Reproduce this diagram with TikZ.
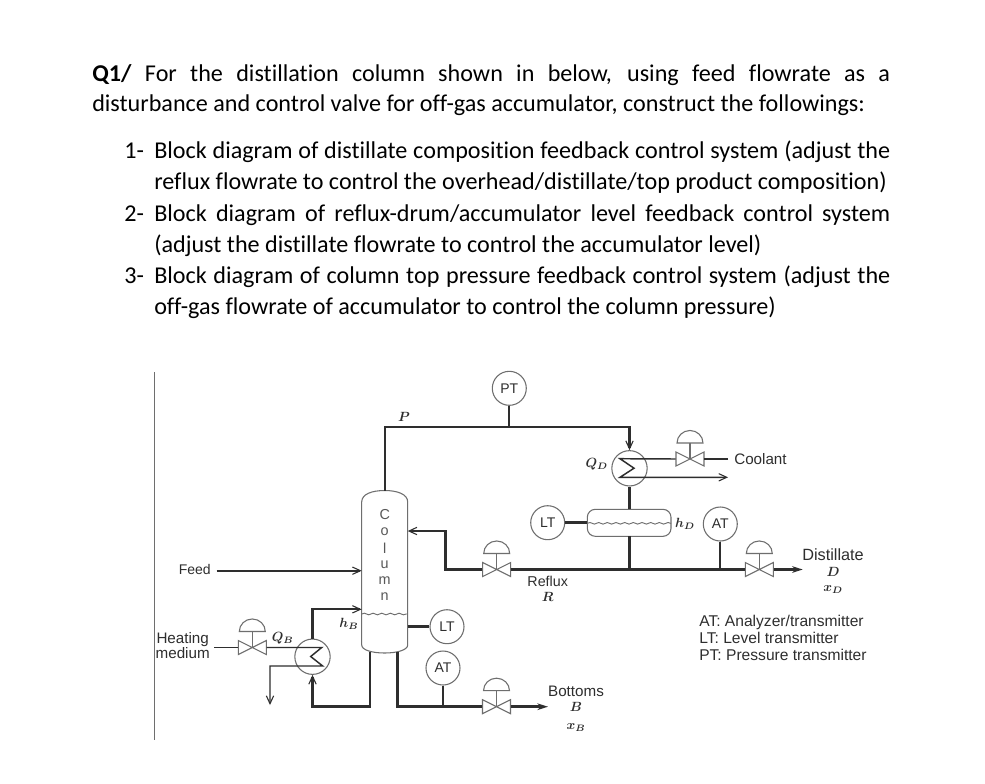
\documentclass[tikz,border=0pt]{standalone}
\usepackage{fontspec}
\setmainfont[Ligatures=NoCommon]{Carlito}
\newfontfamily\diagfont{Liberation Sans}
\usetikzlibrary{arrows.meta,decorations.pathmorphing}
\definecolor{ink}{HTML}{2E2E2E}
\definecolor{soft}{HTML}{6E6E6E}
\tikzset{
  x=0.75pt,y=-0.75pt,
  bodyline/.style={anchor=base west,inner sep=0pt,font=\fontsize{18.1}{22}\selectfont,text=black},
  heavy/.style={draw=ink,line width=1.9pt},
  pipe/.style={draw=ink,line width=1.6pt},
  thin pipe/.style={draw=ink,line width=1.1pt},
  instr/.style={circle,draw=soft,line width=0.8pt,fill=white,minimum size=25.5pt,inner sep=0pt,
     font=\diagfont\fontsize{10.5}{12}\selectfont,text=ink},
  hx/.style={circle,draw=ink!70,line width=0.8pt,minimum size=26.5pt,inner sep=0pt},
  lab/.style={inner sep=0pt,anchor=base,font=\diagfont\fontsize{11.4}{13}\selectfont,text=ink},
  keylab/.style={inner sep=0pt,anchor=base west,font=\diagfont\fontsize{11.7}{13}\selectfont,text=ink},
  mathlab/.style={inner sep=0pt,font=\fontsize{10}{12}\selectfont\boldmath,text=ink},
  letter/.style={inner sep=0pt,font=\diagfont\fontsize{10.8}{12}\selectfont,text=ink!80},
  valvebox/.style={inner sep=0pt,minimum width=21pt,minimum height=10.5pt},
  valveline/.style={draw=soft,line width=0.8pt,fill=white},
  barb/.style={-{Straight Barb[length=6pt,width=5.5pt,line width=0.8pt]}},
  solidtip/.style={-{Stealth[length=8pt,width=5pt]}},
  vessel/.style={draw=soft,line width=0.8pt,fill=white},
  wave/.style={draw=soft,line width=0.7pt,decorate,decoration={snake,amplitude=0.6pt,segment length=6.5pt}},
}
\newcommand{\valveat}[3]{%
  \node[valvebox] (#1) at (#2,#3) {};
  \path[valveline] (#2-14,#3-7) -- (#2+14,#3+7) -- (#2+14,#3-7) -- (#2-14,#3+7) -- cycle;
  \path[valveline,fill=none] (#2,#3) -- (#2,#3-16);
  \path[valveline,fill=none] (#2-13,#3-16) -- (#2+13,#3-16) arc[start angle=0,end angle=180,x radius=9.75pt,y radius=9.4pt] -- cycle;
}
\begin{document}
\begin{tikzpicture}
\useasboundingbox (0,0) rectangle (985,783);
\fill[white] (0,0) rectangle (985,783);
% question text
\node[bodyline] (l1) at (92,81) {\hbox to 598.5pt{\textbf{Q1/} For the distillation column shown in below, using feed flowrate as a}};
\node[bodyline] (l2) at (92,111.5) {disturbance and control valve for off-gas accumulator, construct the followings:};
\node[bodyline] (n1) at (124,158) {1-};
\node[bodyline] (l3) at (154,158) {\hbox to 552pt{Block diagram of distillate composition feedback control system (adjust the}};
\node[bodyline] (l4) at (154,189) {reflux flowrate to control the overhead/distillate/top product composition)};
\node[bodyline] (n2) at (124,221) {2-};
\node[bodyline] (l5) at (154,221) {\hbox to 552pt{Block diagram of reflux-drum/accumulator level feedback control system}};
\node[bodyline] (l6) at (154,252) {(adjust the distillate flowrate to control the accumulator level)};
\node[bodyline] (n3) at (124,283) {3-};
\node[bodyline] (l7) at (154,283) {\hbox to 552pt{Block diagram of column top pressure feedback control system (adjust the}};
\node[bodyline] (l8) at (154,314) {off-gas flowrate of accumulator to control the column pressure)};
% left border line of the figure
\coordinate (bt) at (154.5,372);
\coordinate (bb) at (154.5,740);
\draw[draw=soft,line width=0.8pt] (bt) -- (bb);
% column
\path[vessel] (361.7,502) .. controls (361.7,494) and (372,490.5) .. (384.7,490.5)
   .. controls (397,490.5) and (407.7,494) .. (407.7,502) -- (407.7,645)
   .. controls (407.7,650) and (397,653) .. (384.7,653)
   .. controls (372,653) and (361.7,650) .. (361.7,645) -- cycle;
\coordinate (colL) at (361.7,570.7);
\coordinate (colHb) at (361.7,609.3);
\coordinate (colLT) at (407.7,626.7);
\coordinate (colRef) at (407.7,531);
\coordinate (colTop) at (384.7,490.5);
\coordinate (colB1) at (370,652);
\coordinate (colB2) at (397.7,652);
\draw[wave] (361.7,614) -- (407.7,614);
\node[letter] (c1) at (384.7,515) {C};
\node[letter] (c2) at (384.7,531.5) {o};
\node[letter] (c3) at (384.7,548) {l};
\node[letter] (c4) at (384.7,565) {u};
\node[letter] (c5) at (384.7,581) {m};
\node[letter] (c6) at (384.7,597) {n};
% instruments
\node[instr] (pt) at (509.3,388.3) {PT};
\node[instr] (ltb) at (447,626.7) {LT};
\node[instr] (atb) at (443,668) {AT};
\node[instr] (ltd) at (547.7,522.7) {LT};
\node[instr] (atd) at (720.3,524) {AT};
% exchangers
\node[hx] (reb) at (312.5,656.7) {};
\node[hx] (cond) at (629.5,468.3) {};
% drum
\path[vessel,rounded corners=6pt] (587.3,509.3) rectangle (671,536.3);
\coordinate (drT) at (629.5,509.3);
\coordinate (drB) at (629.5,536.3);
\coordinate (drL) at (587.3,522.7);
\draw[wave] (587.3,523.3) -- (671,523.3);
% valves
\valveat{vh}{252.3}{647.5}
\valveat{vb}{496.5}{706.7}
\valveat{vr}{496.7}{569.5}
\valveat{vc}{690}{459}
\valveat{vd}{759.3}{569.5}
% feed
\coordinate (feed0) at (216.7,570.7);
\draw[pipe,barb] (feed0) -- (colL);
% vapour boilup
\draw[pipe,barb] (reb.north) -- (312.5,609.3) -- (colHb);
% overhead
\coordinate (ptj) at (509.3,427.3);
\draw[pipe] (colTop) -- (384.7,427.3) -- (ptj) -- (629.5,427.3) -- (629.5,440);
\draw[pipe,barb] (629.5,440) -- (cond.north);
\draw[pipe] (pt.south) -- (ptj);
% condenser to drum
\draw[pipe] (cond.south) -- (drT);
% reflux and distillate
\coordinate (dj) at (629.5,569.5);
\coordinate (aj) at (720.3,569.5);
\draw[pipe] (drB) -- (dj);
\draw[pipe] (vr.east) -- (dj) -- (aj) -- (vd.west);
\draw[pipe] (atd.south) -- (aj);
\draw[heavy,barb] (vr.west) -- (445.3,569.5) -- (445.3,531) -- (colRef);
\coordinate (dend) at (802.7,569.5);
\draw[heavy,solidtip] (vd.east) -- (dend);
\draw[heavy] (ltd.east) -- (drL);
\draw[heavy] (colLT) -- (ltb.west);
% bottoms
\coordinate (bj) at (443,706.7);
\coordinate (bend) at (548,706.7);
\draw[heavy] (colB2) -- (397.7,706.7) -- (bj) -- (vb.west);
\draw[heavy,barb] (colB1) -- (370,706.7) -- (312.5,706.7) -- (reb.south);
\draw[pipe] (atb.south) -- (bj);
\draw[heavy,solidtip] (vb.east) -- (bend);
% heating medium
\coordinate (hm0) at (214,647.5);
\coordinate (hm1) at (321.7,647.5);
\coordinate (hm2) at (310.7,656.5);
\coordinate (hm3) at (322.7,666);
\coordinate (hmE) at (270,705);
\draw[thin pipe] (hm0) -- (vh.west);
\draw[thin pipe,barb,line join=miter] (vh.east) -- (hm1) -- (hm2) -- (hm3) -- (270,666) -- (hmE);
% coolant
\coordinate (cc1) at (620,458.7);
\coordinate (cc2) at (634,468.2);
\coordinate (cc3) at (620,477.3);
\coordinate (ccE) at (728,477.3);
\coordinate (cool) at (728,459);
\draw[thin pipe] (cool) -- (vc.east);
\draw[thin pipe,barb] (vc.west) -- (cc1) -- (cc2) -- (cc3) -- (ccE);
% labels
\node[lab,anchor=base east,font=\diagfont\fontsize{10.5}{12}\selectfont] (feedl) at (211,574.3) {Feed};
\node[lab] (hm) at (182.7,643.3) {Heating};
\node[lab] (md) at (182.7,658.7) {medium};
\node[lab,anchor=base west] (cl) at (734,464) {Coolant};
\node[lab,font=\diagfont\fontsize{10.7}{12}\selectfont] (rl) at (547.7,586.7) {Reflux};
\node[lab,font=\diagfont\fontsize{12.2}{14}\selectfont] (dl) at (833,560.7) {Distillate};
\node[lab] (bl) at (576,696) {Bottoms};
\node[mathlab] (mP) at (404,417) {$P$};
\node[mathlab] (mQd) at (596.7,464) {$Q_D$};
\node[mathlab] (mQb) at (282.7,638) {$Q_B$};
\node[mathlab] (mHb) at (349,624) {$h_B$};
\node[mathlab] (mHd) at (685,524) {$h_D$};
\node[mathlab] (mR) at (547.7,597) {$R$};
\node[mathlab] (mD) at (833,572) {$D$};
\node[mathlab] (mXd) at (833,590) {$x_D$};
\node[mathlab] (mB) at (576,707) {$B$};
\node[mathlab] (mXb) at (576,728) {$x_B$};
\node[keylab] (k1) at (699,626.5) {AT: Analyzer/transmitter};
\node[keylab] (k2) at (699,643.5) {LT: Level transmitter};
\node[keylab] (k3) at (699,660.5) {PT: Pressure transmitter};
\end{tikzpicture}
\end{document}
